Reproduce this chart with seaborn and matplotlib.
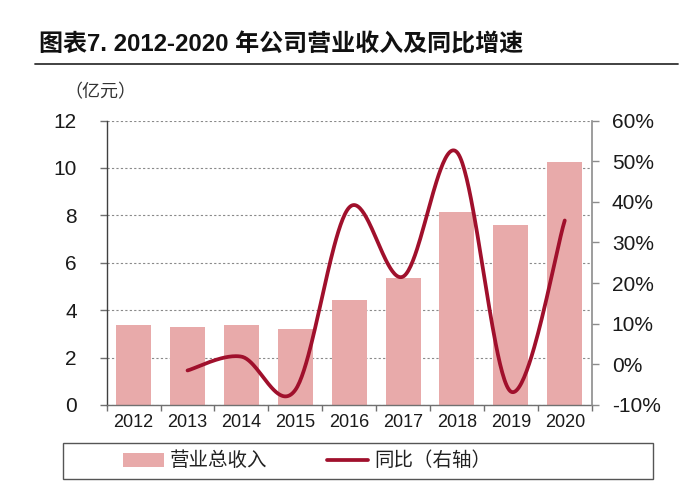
import numpy as np
import pandas as pd
import matplotlib
matplotlib.use("Agg")
import matplotlib.pyplot as plt
import seaborn as sns
from matplotlib.patches import Rectangle, Patch
from matplotlib.lines import Line2D

# ---- data ----
years = ["2012", "2013", "2014", "2015", "2016", "2017", "2018", "2019", "2020"]
revenue = [3.37, 3.31, 3.37, 3.20, 4.41, 5.37, 8.13, 7.58, 10.24]   # 亿元
yoy_years = ["2013", "2014", "2015", "2016", "2017", "2018", "2019", "2020"]
yoy = [-1.5, 1.9, -6.3, 38.6, 21.6, 52.2, -6.7, 35.4]                # %
left_ticks = [0, 2, 4, 6, 8, 10, 12]
right_ticks = [-10, 0, 10, 20, 30, 40, 50, 60]

title = "图表7. 2012-2020 年公司营业收入及同比增速"
unit_label = "（亿元）"
legend_labels = ["营业总收入", "同比（右轴）"]

bar_color = "#E8AAAA"
line_color = "#A0102C"
text_color = "#1A1A1A"

sns.set_theme(style="white")
FAM = ["Liberation Sans", "Noto Sans CJK SC", "DejaVu Sans"]
plt.rcParams["font.family"] = FAM

W, H = 686, 482
fig = plt.figure(figsize=(W / 100, H / 100), dpi=100)

def fx(px):
    return px / W

def fy(py):
    return 1 - py / H

left, right, top, bottom = 106.7, 591.7, 120.5, 405.0
ax = fig.add_axes([fx(left), fy(bottom), fx(right) - fx(left), fy(top) - fy(bottom)])

df = pd.DataFrame({"year": years, "revenue": revenue})
sns.barplot(data=df, x="year", y="revenue", color=bar_color, saturation=1,
            width=0.65, linewidth=0, ax=ax, zorder=2)
ax.set_axisbelow(True)
ax.set_xlim(-0.5, len(years) - 0.5)
ax.set_ylim(left_ticks[0], left_ticks[-1])
ax.set_yticks(left_ticks)
ax.set_yticklabels([str(v) for v in left_ticks])
ax.set_xticks(range(len(years)))
ax.set_xticklabels(years)
ax.set_xticks(np.arange(-0.5, len(years), 1.0), minor=True)
ax.set_xlabel("")
ax.set_ylabel("")

ax.yaxis.grid(True, linestyle=(0, (2, 2)), color="#8a8a8a", linewidth=0.8)
ax.xaxis.grid(False)

ax.tick_params(axis="y", left=True, direction="out", length=5, width=1,
               color="#707070", pad=16.5, labelsize=15, labelcolor=text_color)
ax.tick_params(axis="x", which="major", bottom=True, length=0, pad=6.5,
               labelsize=13, labelcolor=text_color)
ax.tick_params(axis="x", which="minor", bottom=True, direction="out", length=4.5,
               width=1, color="#707070")

for s in ["top", "right"]:
    ax.spines[s].set_visible(False)
ax.spines["left"].set_color("#404040")
ax.spines["left"].set_linewidth(1.0)
ax.spines["bottom"].set_color("#707070")
ax.spines["bottom"].set_linewidth(1.0)

# ---- smoothed YoY line on the right axis ----
def catmull_rom(xs, ys, n=50):
    P = np.column_stack([xs, ys]).astype(float)
    Pe = np.vstack([P[0], P, P[-1]])
    out = []
    for i in range(len(P) - 1):
        p0, p1, p2, p3 = Pe[i], Pe[i + 1], Pe[i + 2], Pe[i + 3]
        t = np.linspace(0, 1, n, endpoint=(i == len(P) - 2))[:, None]
        c1 = p1 + (p2 - p0) / 6
        c2 = p2 - (p3 - p1) / 6
        out.append((1 - t) ** 3 * p1 + 3 * (1 - t) ** 2 * t * c1
                   + 3 * (1 - t) * t ** 2 * c2 + t ** 3 * p2)
    return np.vstack(out)

xpos = [years.index(y) for y in yoy_years]
curve = catmull_rom(xpos, yoy)

ax2 = ax.twinx()
sns.lineplot(x=curve[:, 0], y=curve[:, 1], sort=False, estimator=None,
             color=line_color, linewidth=2.7, ax=ax2)
ax2.set_xlim(-0.5, len(years) - 0.5)
ax2.set_ylim(right_ticks[0], right_ticks[-1])
ax2.set_yticks(right_ticks)
ax2.set_yticklabels([f"{v}%" for v in right_ticks])
ax2.grid(False)
ax2.tick_params(axis="y", right=True, direction="out", length=5, width=1,
                color="#8c8c8c", pad=9.5, labelsize=15, labelcolor=text_color)
for s in ["top", "left", "bottom"]:
    ax2.spines[s].set_visible(False)
ax2.spines["right"].set_color("#8c8c8c")
ax2.spines["right"].set_linewidth(1.2)
ax2.set_ylabel("")

# ---- title, rule, unit ----
fig.text(fx(39), fy(44), title, ha="left", va="center", fontsize=17.3,
         fontweight="bold", color="#111111", family=FAM)
fig.add_artist(Line2D([fx(35), fx(678)], [fy(64), fy(64)], transform=fig.transFigure,
                      color="#333333", linewidth=1.3))
fig.text(fx(64), fy(92), unit_label, ha="left", va="center", fontsize=13,
         color="#333333", family=["Noto Sans CJK SC", "DejaVu Sans"])

# ---- legend ----
fig.add_artist(Rectangle((fx(63), fy(479)), fx(653) - fx(63), fy(443) - fy(479),
                         transform=fig.transFigure, fill=False,
                         edgecolor="#555555", linewidth=1.0))
handles = [Patch(facecolor=bar_color, edgecolor="none"),
           Line2D([0], [0], color=line_color, linewidth=2.7)]
fig.legend(handles, legend_labels, loc="center left",
           bbox_to_anchor=(fx(123), fy(461)), ncol=2, frameon=False,
           borderpad=0, borderaxespad=0, handlelength=2.1, handleheight=0.7,
           handletextpad=0.3, columnspacing=3.1,
           prop={"family": ["Noto Sans CJK SC", "DejaVu Sans"], "size": 14},
           labelcolor="#222222")

fig.savefig("out.png", dpi=100)
